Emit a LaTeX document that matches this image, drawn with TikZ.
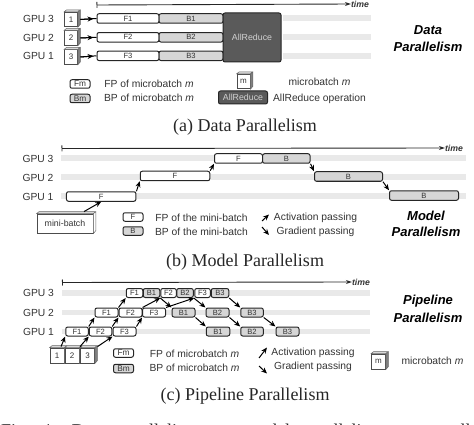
\documentclass[tikz,border=0pt]{standalone}
\usepackage{fontspec}
\setmainfont{Liberation Serif}
\setsansfont{Liberation Sans}
\usetikzlibrary{arrows.meta}
\definecolor{bandgray}{HTML}{E9E9E9}
\definecolor{backgray}{HTML}{D6D6D6}
\definecolor{reducegray}{HTML}{5A5A5A}
\definecolor{inkgray}{HTML}{333333}
\newcommand{\sans}[1]{\sffamily\fontsize{#1}{#1}\selectfont}
\tikzset{
  every node/.style={inner sep=0pt,font=\sans{10.3},text=inkgray},
  pass/.style={line width=1pt,draw=black,-{Stealth[length=6pt,width=5pt]}},
  timeline/.style={line width=0.9pt,draw=black!85,{Bar[width=6pt]}-{Stealth[length=6pt,width=4pt]}},
  timelabel/.style={font=\sans{8.7}\bfseries\itshape},
  band/.style={fill=bandgray},
  fwd/.style={draw=black!85,line width=1pt,fill=white,rounded corners=2pt,font=\sans{7.6}},
  bwd/.style={fwd,fill=backgray},
  reduce/.style={draw=black!85,line width=1pt,fill=reducegray,rounded corners=2pt,text=black!18,font=\sans{8.8}},
  panelname/.style={font=\sans{13}\bfseries\itshape,text=black},
  subcap/.style={font=\rmfamily\fontsize{18}{20}\selectfont,text=black!85},
  cubeface/.style={draw=black!70,line width=0.8pt,fill=white,font=\sans{8}},
}
\newcommand{\batchcube}[6][black!50]{
  \node[cubeface,minimum width=#4pt,minimum height=#5pt] (#2) at (#3) {#6};
  \filldraw[draw=black!60,fill=#1,line width=0.5pt] (#2.north east) -- ++(2.5,-2) -- ++(0,#5) -- (#2.south east) -- cycle;
  \filldraw[draw=black!60,fill=black!15,line width=0.5pt] (#2.north west) -- ++(2.5,-2) -- ++(#4,0) -- (#2.north east) -- cycle;
}
\begin{document}
\begin{tikzpicture}[x=1pt,y=-1pt]
  \useasboundingbox (0,0) rectangle (474,425);
  \clip (0,0) rectangle (474,425);

  \fill[band] (283,15) rectangle (371,21);
  \fill[band] (283,34) rectangle (371,40);
  \fill[band] (283,53) rectangle (371,59);
  \node[timelabel] (timeA) at (360,4) {time};
  \coordinate (startA) at (96.5,5);
  \draw[timeline] (startA) -- (timeA.west);
  \node (gpuA3) at (38.5,19) {GPU 3};
  \node (gpuA2) at (38.5,37.5) {GPU 2};
  \node (gpuA1) at (38.5,56) {GPU 1};
  \batchcube{cubeA1}{71,19.5}{13}{14.5}{1}
  \batchcube{cubeA2}{71,38}{13}{14.5}{2}
  \batchcube{cubeA3}{71,57}{13}{14.5}{3}
  \node[fwd,minimum width=62pt,minimum height=9.5pt] (FA1) at (128,18.5) {F1};
  \node[fwd,minimum width=62pt,minimum height=9.5pt] (FA2) at (128,37.3) {F2};
  \node[fwd,minimum width=62pt,minimum height=9.5pt] (FA3) at (128,55.8) {F3};
  \node[bwd,minimum width=64pt,minimum height=9.5pt] (BA1) at (191,18.5) {B1};
  \node[bwd,minimum width=64pt,minimum height=9.5pt] (BA2) at (191,37.3) {B2};
  \node[bwd,minimum width=64pt,minimum height=9.5pt] (BA3) at (191,55.8) {B3};
  \node[reduce,minimum width=58pt,minimum height=49pt] (RA) at (252,37.5) {AllReduce};
  \draw[line width=1pt] (cubeA1.east) ++(2.5,0) -- (FA1.west);
  \draw[line width=1pt] (cubeA2.east) ++(2.5,0) -- (FA2.west);
  \draw[line width=1pt] (cubeA3.east) ++(2.5,0) -- (FA3.west);
  \draw[pass,shorten >=3pt] (cubeA1.east) ++(2.5,0) -- (FA1.west);
  \draw[pass,shorten >=3pt] (cubeA2.east) ++(2.5,0) -- (FA2.west);
  \draw[pass,shorten >=3pt] (cubeA3.east) ++(2.5,0) -- (FA3.west);
  \node[panelname] (nameA1) at (428,30) {Data};
  \node[panelname] (nameA2) at (428,47) {Parallelism};
  \node[fwd,font=\sans{8.3},minimum width=20pt,minimum height=8.5pt] (keyFA) at (80,84) {Fm};
  \node[bwd,font=\sans{8.3},minimum width=20pt,minimum height=8.5pt] (keyBA) at (80,98.5) {Bm};
  \node (textFA) at (149,83.5) {FP of microbatch \textit{m}};
  \node (textBA) at (149,97.5) {BP of microbatch \textit{m}};
  \batchcube{keyCubeA}{243.5,81.5}{13}{14.5}{m}
  \node (textCubeA) at (319.5,81.5) {microbatch \textit{m}};
  \node[reduce,minimum width=49pt,minimum height=13pt] (keyRA) at (243,97.5) {AllReduce};
  \node (textRA) at (319.5,99) {AllReduce operation};
  \node[subcap] (capA) at (245,127.5) {(a) Data Parallelism};

  \fill[band] (61,155) rectangle (466,161);
  \fill[band] (61,174) rectangle (466,180);
  \fill[band] (61,192.5) rectangle (466,198.5);
  \node[timelabel] (timeB) at (454,148) {time};
  \coordinate (startB) at (61.5,148.5);
  \draw[timeline] (startB) -- (timeB.west);
  \node (gpuB3) at (38,159) {GPU 3};
  \node (gpuB2) at (38,177.5) {GPU 2};
  \node (gpuB1) at (38,196.5) {GPU 1};
  \node[fwd,minimum width=69.5pt,minimum height=9.5pt] (FB1) at (101.2,196.5) {F};
  \node[fwd,minimum width=69.5pt,minimum height=9.5pt] (FB2) at (175,176) {F};
  \node[fwd,minimum width=48pt,minimum height=9.5pt] (FB3) at (238.5,158.5) {F};
  \node[bwd,minimum width=47.5pt,minimum height=9.5pt] (BB3) at (286.3,158.5) {B};
  \node[bwd,minimum width=68pt,minimum height=9.5pt] (BB2) at (348.5,176.5) {B};
  \node[bwd,minimum width=69pt,minimum height=9.5pt] (BB1) at (424,195.5) {B};
  \batchcube[white]{miniB}{65,223.5}{56}{19}{\sans{8.8}mini-batch}
  \draw[pass] (miniB.north) ++(19,-2) -- (FB1.south);
  \draw[pass] (FB1.north east) -- (FB2.south west);
  \draw[pass] (FB2.north east) -- (FB3.south west);
  \draw[pass] (BB3.south east) -- (BB2.north west);
  \draw[pass] (BB2.south east) -- (BB1.north west);
  \node[fwd,minimum width=20pt,minimum height=8.5pt] (keyFB) at (133,217) {F};
  \node[bwd,minimum width=20pt,minimum height=8.5pt] (keyBB) at (133,231) {B};
  \node (textFB) at (201.5,218) {FP of the mini-batch};
  \node (textBB) at (201.5,231.5) {BP of the mini-batch};
  \coordinate (actB0) at (262,221);
  \coordinate (actB1) at (269,214.5);
  \coordinate (gradB0) at (262,227);
  \coordinate (gradB1) at (269,235);
  \draw[pass] (actB0) -- (actB1);
  \draw[pass] (gradB0) -- (gradB1);
  \node (textAB) at (315.5,218) {Activation passing};
  \node (textGB) at (315.5,231.5) {Gradient passing};
  \node[panelname] (nameB1) at (426,216) {Model};
  \node[panelname] (nameB2) at (426,232) {Parallelism};
  \node[subcap] (capB) at (245,262.5) {(b) Model Parallelism};

  \fill[band] (62,290) rectangle (370,295.5);
  \fill[band] (62,309.5) rectangle (370,315);
  \fill[band] (62,328.5) rectangle (370,334);
  \node[timelabel] (timeC) at (361,282) {time};
  \coordinate (startC) at (62,282.5);
  \draw[timeline] (startC) -- (timeC.west);
  \node (gpuC3) at (38.5,293) {GPU 3};
  \node (gpuC2) at (38.5,312.5) {GPU 2};
  \node (gpuC1) at (38.5,332) {GPU 1};
  \node[fwd,minimum width=16.5pt,minimum height=9pt] (F31) at (134.5,293) {F1};
  \node[bwd,minimum width=16.5pt,minimum height=9pt] (B31) at (151.5,293) {B1};
  \node[fwd,minimum width=15.5pt,minimum height=9pt] (F32) at (168.5,293) {F2};
  \node[bwd,minimum width=16.5pt,minimum height=9pt] (B32) at (185,293) {B2};
  \node[fwd,minimum width=15.5pt,minimum height=9pt] (F33) at (202.5,293) {F3};
  \node[bwd,minimum width=17.5pt,minimum height=9pt] (B33) at (220,293) {B3};
  \node[fwd,minimum width=23pt,minimum height=9pt] (F21) at (106.5,312.5) {F1};
  \node[fwd,minimum width=23pt,minimum height=9pt] (F22) at (130.5,312.5) {F2};
  \node[fwd,minimum width=23pt,minimum height=9pt] (F23) at (154,312.5) {F3};
  \node[bwd,minimum width=23pt,minimum height=9pt] (B21) at (183.5,312.5) {B1};
  \node[bwd,minimum width=23pt,minimum height=9pt] (B22) at (217.5,312.5) {B2};
  \node[bwd,minimum width=22.5pt,minimum height=9pt] (B23) at (252,312.5) {B3};
  \node[fwd,minimum width=22.5pt,minimum height=9pt] (F11) at (77,331.5) {F1};
  \node[fwd,minimum width=22.5pt,minimum height=9pt] (F12) at (100.5,331.5) {F2};
  \node[fwd,minimum width=23pt,minimum height=9pt] (F13) at (124.5,331.5) {F3};
  \node[bwd,minimum width=23.5pt,minimum height=9pt] (B11) at (218,331.5) {B1};
  \node[bwd,minimum width=22.5pt,minimum height=9pt] (B12) at (252,331.5) {B2};
  \node[bwd,minimum width=23pt,minimum height=9pt] (B13) at (287.5,331.5) {B3};
  \batchcube{cubeC1}{57,355.5}{14}{15}{1}
  \batchcube{cubeC2}{72,355.5}{14}{15}{2}
  \batchcube{cubeC3}{87.5,355.5}{14}{15}{3}
  \draw[pass] (cubeC1.north) ++(4,-1) -- (F11.south west);
  \draw[pass] (cubeC2.north) ++(8,-1) -- (F12.south west);
  \draw[pass] (cubeC3.north) ++(10,-1) -- (F13.south west);
  \draw[pass] (F11.north east) -- (F21.south west);
  \draw[pass] (F12.north east) -- (F22.south west);
  \draw[pass] (F13.north east) -- (F23.south west);
  \draw[pass] (F21.north east) -- (F31.south west);
  \draw[pass] (F22.north east) -- (F32.south west);
  \draw[pass] (F23.north east) -- (F33.south west);
  \draw[pass] (B31.south east) -- (B21.north west);
  \draw[pass] (B32.south east) -- (B22.north west);
  \draw[pass] (B33.south east) -- (B23.north west);
  \draw[pass] (B21.south east) -- (B11.north west);
  \draw[pass] (B22.south east) -- (B12.north west);
  \draw[pass] (B23.south east) -- (B13.north west);
  \node[fwd,font=\sans{8.3},minimum width=20pt,minimum height=8.5pt] (keyFC) at (123.5,353) {Fm};
  \node[bwd,font=\sans{8.3},minimum width=20pt,minimum height=8.5pt] (keyBC) at (123.5,368.5) {Bm};
  \node (textFC) at (194.5,353.5) {FP of microbatch \textit{m}};
  \node (textBC) at (194.5,368) {BP of microbatch \textit{m}};
  \coordinate (actC0) at (259,358);
  \coordinate (actC1) at (267,347.5);
  \coordinate (gradC0) at (259,366);
  \coordinate (gradC1) at (267,373.5);
  \draw[pass] (actC0) -- (actC1);
  \draw[pass] (gradC0) -- (gradC1);
  \node (textAC) at (313,352.5) {Activation passing};
  \node (textGC) at (313,367) {Gradient passing};
  \batchcube{keyCubeC}{378.5,361.5}{14}{15}{m}
  \node (textCubeC) at (432.5,361) {microbatch \textit{m}};
  \node[panelname] (nameC1) at (428,301.5) {Pipeline};
  \node[panelname] (nameC2) at (428,318) {Parallelism};
  \node[subcap] (capC) at (245,396.5) {(c) Pipeline Parallelism};

  \node[subcap,anchor=base west] (capFig) at (1,436) {\spaceskip=12.5pt Fig. 1: Data parallelism vs. model parallelism vs. parallelism};
\end{tikzpicture}
\end{document}
